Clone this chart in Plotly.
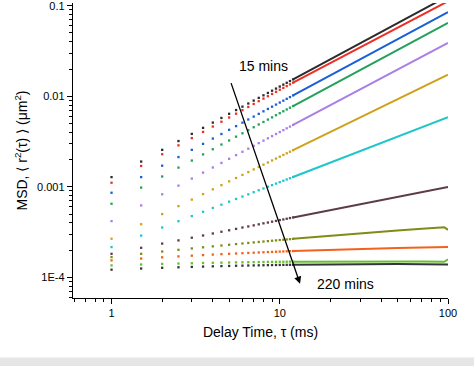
import plotly.graph_objects as go
import math

# Delay times (ms)
TAU = [1, 1.5, 2, 2.5, 3, 3.5, 4, 4.5, 5, 5.5, 6, 6.5, 7, 7.5, 8, 8.5, 9, 9.5, 10,
       10.5, 11, 11.5, 12, 20, 30, 50, 70, 95, 100]
N_DOTS = 23  # first entries drawn as separate dots, the rest merge into a line

# MSD values (um^2), from 15 mins (top) to 220 mins (bottom)
S01 = [1.28e-3, 1.90e-3, 2.56e-3, 3.20e-3, 3.84e-3, 4.48e-3, 5.12e-3, 5.76e-3, 6.40e-3, 7.04e-3,
       7.68e-3, 8.32e-3, 8.96e-3, 9.60e-3, 1.024e-2, 1.088e-2, 1.152e-2, 1.216e-2, 1.28e-2, 1.344e-2,
       1.408e-2, 1.472e-2, 1.536e-2, 2.56e-2, 3.84e-2, 6.40e-2, 8.96e-2, 0.1216, 0.128]
S02 = [1.11e-3, 1.70e-3, 2.29e-3, 2.87e-3, 3.45e-3, 4.04e-3, 4.63e-3, 5.23e-3, 5.83e-3, 6.42e-3,
       7.02e-3, 7.62e-3, 8.22e-3, 8.82e-3, 9.42e-3, 1.001e-2, 1.06e-2, 1.12e-2, 1.18e-2, 1.238e-2,
       1.296e-2, 1.355e-2, 1.413e-2, 2.33e-2, 3.46e-2, 5.68e-2, 7.90e-2, 0.1065, 0.112]
S03 = [8.6e-4, 1.28e-3, 1.71e-3, 2.13e-3, 2.56e-3, 2.98e-3, 3.41e-3, 3.83e-3, 4.26e-3, 4.68e-3,
       5.11e-3, 5.54e-3, 5.96e-3, 6.39e-3, 6.82e-3, 7.24e-3, 7.67e-3, 8.09e-3, 8.52e-3, 8.94e-3,
       9.37e-3, 9.79e-3, 1.022e-2, 1.71e-2, 2.56e-2, 4.27e-2, 5.97e-2, 8.10e-2, 8.52e-2]
S04 = [6.5e-4, 9.8e-4, 1.30e-3, 1.63e-3, 1.95e-3, 2.28e-3, 2.60e-3, 2.93e-3, 3.25e-3, 3.58e-3,
       3.90e-3, 4.23e-3, 4.55e-3, 4.88e-3, 5.20e-3, 5.53e-3, 5.85e-3, 6.18e-3, 6.50e-3, 6.83e-3,
       7.15e-3, 7.48e-3, 7.80e-3, 1.30e-2, 1.95e-2, 3.24e-2, 4.53e-2, 6.15e-2, 6.47e-2]
S05 = [4.18e-4, 6.23e-4, 8.27e-4, 1.030e-3, 1.232e-3, 1.434e-3, 1.635e-3, 1.836e-3, 2.037e-3, 2.237e-3,
       2.437e-3, 2.637e-3, 2.836e-3, 3.036e-3, 3.235e-3, 3.433e-3, 3.632e-3, 3.830e-3, 4.029e-3, 4.227e-3,
       4.425e-3, 4.623e-3, 4.820e-3, 7.97e-3, 1.188e-2, 1.963e-2, 2.734e-2, 3.692e-2, 3.883e-2]
S06 = [2.67e-4, 3.86e-4, 5.00e-4, 6.12e-4, 7.22e-4, 8.31e-4, 9.38e-4, 1.043e-3, 1.148e-3, 1.251e-3,
       1.354e-3, 1.455e-3, 1.557e-3, 1.657e-3, 1.757e-3, 1.856e-3, 1.954e-3, 2.052e-3, 2.150e-3, 2.248e-3,
       2.344e-3, 2.441e-3, 2.537e-3, 4.03e-3, 5.82e-3, 9.24e-3, 1.254e-2, 1.654e-2, 1.732e-2]
S07 = [2.16e-4, 2.89e-4, 3.55e-4, 4.17e-4, 4.75e-4, 5.30e-4, 5.84e-4, 6.35e-4, 6.85e-4, 7.34e-4,
       7.81e-4, 8.26e-4, 8.72e-4, 9.16e-4, 9.59e-4, 1.002e-3, 1.044e-3, 1.085e-3, 1.126e-3, 1.166e-3,
       1.205e-3, 1.244e-3, 1.283e-3, 1.850e-3, 2.475e-3, 3.57e-3, 4.54e-3, 5.65e-3, 5.87e-3]
S08 = [1.82e-4, 2.12e-4, 2.36e-4, 2.56e-4, 2.74e-4, 2.90e-4, 3.05e-4, 3.19e-4, 3.31e-4, 3.43e-4,
       3.55e-4, 3.65e-4, 3.75e-4, 3.85e-4, 3.95e-4, 4.03e-4, 4.12e-4, 4.20e-4, 4.29e-4, 4.36e-4,
       4.44e-4, 4.52e-4, 4.59e-4, 5.55e-4, 6.45e-4, 7.80e-4, 8.84e-4, 9.85e-4, 9.95e-4]
S09 = [1.675e-4, 1.821e-4, 1.928e-4, 2.014e-4, 2.086e-4, 2.147e-4, 2.200e-4, 2.248e-4, 2.291e-4, 2.330e-4,
       2.367e-4, 2.400e-4, 2.431e-4, 2.460e-4, 2.487e-4, 2.513e-4, 2.537e-4, 2.560e-4, 2.582e-4, 2.603e-4,
       2.623e-4, 2.642e-4, 2.661e-4, 2.884e-4, 3.063e-4, 3.291e-4, 3.441e-4, 3.575e-4, 3.35e-4]
S10 = [1.540e-4, 1.614e-4, 1.665e-4, 1.704e-4, 1.736e-4, 1.762e-4, 1.784e-4, 1.804e-4, 1.820e-4, 1.835e-4,
       1.849e-4, 1.862e-4, 1.873e-4, 1.883e-4, 1.893e-4, 1.902e-4, 1.910e-4, 1.918e-4, 1.925e-4, 1.933e-4,
       1.939e-4, 1.945e-4, 1.951e-4, 2.017e-4, 2.063e-4, 2.113e-4, 2.141e-4, 2.162e-4, 2.165e-4]
S11 = [1.355e-4, 1.387e-4, 1.407e-4, 1.421e-4, 1.432e-4, 1.441e-4, 1.448e-4, 1.454e-4, 1.459e-4, 1.464e-4,
       1.467e-4, 1.471e-4, 1.474e-4, 1.476e-4, 1.479e-4, 1.481e-4, 1.483e-4, 1.484e-4, 1.486e-4, 1.487e-4,
       1.489e-4, 1.490e-4, 1.491e-4, 1.500e-4, 1.503e-4, 1.500e-4, 1.495e-4, 1.487e-4, 1.58e-4]
S12 = [1.216e-4, 1.252e-4, 1.275e-4, 1.292e-4, 1.305e-4, 1.315e-4, 1.324e-4, 1.331e-4, 1.337e-4, 1.343e-4,
       1.347e-4, 1.352e-4, 1.355e-4, 1.358e-4, 1.361e-4, 1.364e-4, 1.367e-4, 1.369e-4, 1.371e-4, 1.373e-4,
       1.375e-4, 1.376e-4, 1.378e-4, 1.392e-4, 1.398e-4, 1.400e-4, 1.397e-4, 1.391e-4, 1.390e-4]

SERIES = [S01, S02, S03, S04, S05, S06, S07, S08, S09, S10, S11, S12]
COLORS = ["#2b2b2b", "#ee2e24", "#1a5fd6", "#23a05a", "#a97ee6", "#cfa21c",
          "#1fc6c9", "#5e3b47", "#7f8c16", "#f2621c", "#69bf2c", "#34363f"]

X_TICKS = [1, 10, 100]
X_TICKTEXT = ["1", "10", "100"]
Y_TICKS = [1e-4, 1e-3, 1e-2, 1e-1]
Y_TICKTEXT = ["1E-4", "0.001", "0.01", "0.1"]

FONT = "Arial, 'Liberation Sans', sans-serif"

fig = go.Figure()
for vals, col in reversed(list(zip(SERIES, COLORS))):
    fig.add_trace(go.Scatter(x=TAU[N_DOTS - 1:], y=vals[N_DOTS - 1:], mode="lines",
                             line=dict(color=col, width=2), hoverinfo="skip", showlegend=False))
    fig.add_trace(go.Scatter(x=TAU[:N_DOTS], y=vals[:N_DOTS], mode="markers",
                             marker=dict(color=col, size=2.3, symbol="square", line=dict(width=0)),
                             showlegend=False, cliponaxis=True))

# arrow from 15 mins to 220 mins
fig.add_annotation(x=math.log10(13.2), y=math.log10(8.5e-5), ax=math.log10(5.1), ay=math.log10(0.0145),
                   xref="x", yref="y", axref="x", ayref="y", text="", showarrow=True,
                   arrowhead=2, arrowsize=1.1, arrowwidth=1.3, arrowcolor="black")
fig.add_annotation(x=math.log10(7.95), y=-1.662, xref="x", yref="y", text="15 mins",
                   showarrow=False, font=dict(family=FONT, size=14, color="black"))
fig.add_annotation(x=1.392, y=-4.069, xref="x", yref="y", text="220 mins",
                   showarrow=False, font=dict(family=FONT, size=14, color="black"))

# caption strip at the bottom of the image
fig.add_shape(type="rect", xref="paper", yref="paper", x0=-0.25, x1=1.12, y0=-0.202, y1=-0.3,
              fillcolor="#e6e6e6", line=dict(width=0), layer="below")

fig.update_layout(
    width=474, height=366,
    margin=dict(l=73, r=26, t=3, b=68),
    paper_bgcolor="white", plot_bgcolor="white",
    font=dict(family=FONT, size=11, color="black"),
    xaxis=dict(type="log", range=[-0.229, 2.0], tickmode="array", tickvals=X_TICKS,
               ticktext=X_TICKTEXT, ticks="outside", ticklen=5, tickwidth=1, tickcolor="black",
               showline=True, linecolor="black", linewidth=1.2, showgrid=False, zeroline=False,
               ticklabeloverflow="allow",
               minor=dict(ticks="outside", ticklen=3, tickwidth=1, tickcolor="black", dtick="D1",
                          showgrid=False),
               title=dict(text="Delay Time, τ (ms)", font=dict(family=FONT, size=14), standoff=8),
               automargin=False),
    yaxis=dict(type="log", range=[-4.228, -0.97], tickmode="array", tickvals=Y_TICKS,
               ticktext=Y_TICKTEXT, ticks="outside", ticklen=5, tickwidth=1, tickcolor="black",
               showline=True, linecolor="black", linewidth=1.2, showgrid=False, zeroline=False,
               ticklabeloverflow="allow",
               minor=dict(ticks="outside", ticklen=3, tickwidth=1, tickcolor="black", dtick="D1",
                          showgrid=False),
               title=dict(text="MSD, ⟨ r<sup>2</sup>(τ) ⟩ (μm<sup>2</sup>)",
                          font=dict(family=FONT, size=14), standoff=6),
               automargin=False),
)

fig.write_html("out.html", config={"displayModeBar": False, "staticPlot": True},
               post_script="document.body.style.margin='0';")
